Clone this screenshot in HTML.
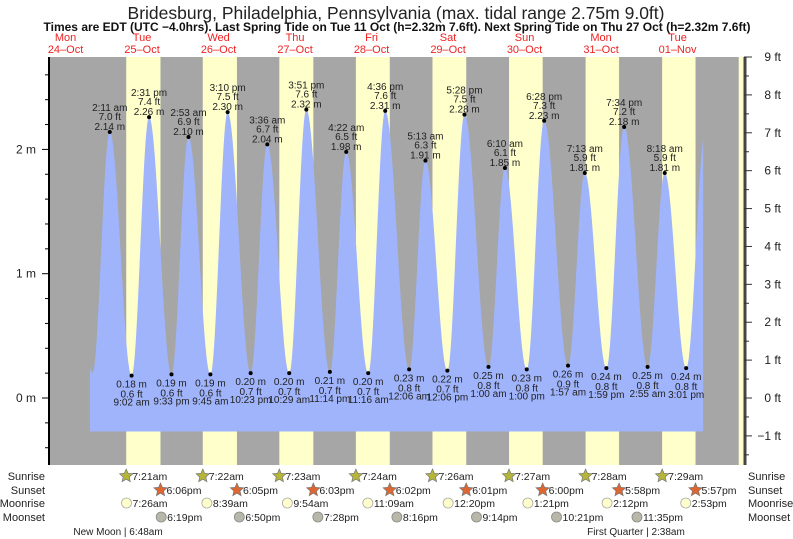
<!DOCTYPE html>
<html><head><meta charset="utf-8">
<style>
html,body{margin:0;padding:0;background:#fff;}
svg{display:block;font-family:"Liberation Sans",sans-serif;}
</style></head>
<body>
<svg id="chart" width="793" height="539" viewBox="0 0 793 539" xmlns="http://www.w3.org/2000/svg">
<text x="396" y="19" text-anchor="middle" font-size="17.5" fill="#222">Bridesburg, Philadelphia, Pennsylvania (max. tidal range 2.75m 9.0ft)</text>
<text x="397" y="31" text-anchor="middle" font-size="12" font-weight="bold" fill="#111">Times are EDT (UTC −4.0hrs). Last Spring Tide on Tue 11 Oct (h=2.32m 7.6ft). Next Spring Tide on Thu 27 Oct (h=2.32m 7.6ft)</text>
<g id="bands"></g>
<g id="tide"></g>
<g id="labels"></g>
<g id="axes"></g>
<g id="astro"></g>
</svg>
<script>
// ---- data ----
const dayNames = ["Mon","Tue","Wed","Thu","Fri","Sat","Sun","Mon","Tue"];
const dayDates = ["24\u2013Oct","25\u2013Oct","26\u2013Oct","27\u2013Oct","28\u2013Oct","29\u2013Oct","30\u2013Oct","31\u2013Oct","01\u2013Nov"];
// extremes: day offset from Oct 24, time, height (m)
const tideDay = [0,1,1,1,1,2,2,2,2,3,3,3,3,4,4,4,5,5,5,5,6,6,6,6,7,7,7,7,8,8,8];
const tideTime = ["20:45","02:11","09:02","14:31","21:33","02:53","09:45","15:10","22:23","03:36","10:29","15:51","23:14","04:22","11:16","16:36","00:06","05:13","12:06","17:28","01:00","06:10","13:00","18:28","01:57","07:13","13:59","19:34","02:55","08:18","15:01"];
const tideHeight = [0.20,2.14,0.18,2.26,0.19,2.10,0.19,2.30,0.20,2.04,0.20,2.32,0.21,1.98,0.20,2.31,0.23,1.91,0.22,2.28,0.25,1.85,0.23,2.23,0.26,1.81,0.24,2.18,0.25,1.81,0.24];
const tideNextDay = 8, tideNextTime = "21:05", tideNextHeight = 2.15;
const dataStart = [0,"20:00"], dataEnd = [8,"20:20"];
const sunriseT = ["7:21","7:22","7:23","7:24","7:26","7:27","7:28","7:29"];
const sunsetT = ["6:06","6:05","6:03","6:02","6:01","6:00","5:58","5:57"];
const moonriseT = ["7:26am","8:39am","9:54am","11:09am","12:20pm","1:21pm","2:12pm","2:53pm"];
const moonsetT = ["6:19pm","6:50pm","7:28pm","8:16pm","9:14pm","10:21pm","11:35pm"];
const mTicks = [0,1,2];
const ftTicks = [-1,0,1,2,3,4,5,6,7,8,9];

// ---- scales ----
const X0 = 26.3, PXD = 76.5;
const PL = 49, PR = 744, PT = 57, PB = 465;
function x(day, hrs){ return X0 + PXD*(day + hrs/24); }
function y(m){ return 398 - 124.3*m; }
function hm(s){ const p=s.split(":"); return +p[0] + (+p[1])/60; }
function ampmHrs(s){ const pm=/pm/.test(s); const t=s.replace(/[apm]/g,""); let h=hm(t); if(pm && h<12) h+=12; if(!pm && h>=12) h-=12; return h; }
function fmt12(s){ let h=hm(s), mm=s.split(":")[1]; let hh=Math.floor(h); const ap = hh>=12?"pm":"am"; hh = hh%12; if(hh===0) hh=12; return hh+":"+mm+" "+ap; }
const NS="http://www.w3.org/2000/svg";
function el(tag, attrs, parent, txt){ const e=document.createElementNS(NS,tag); for(const k in attrs) e.setAttribute(k,attrs[k]); if(txt!==undefined) e.textContent=txt; parent.appendChild(e); return e; }

const bands=document.getElementById('bands');
const bg = el('rect',{x:PL,y:PT,width:PR-PL,height:PB-PT,fill:'#a6a6a6'},bands);


for(let i=0;i<sunriseT.length;i++){
  const d=i+1;
  const x1=x(d,hm(sunriseT[i])), x2=x(d,hm(sunsetT[i])+12);
  const r=el('rect',{x:x1,y:PT,width:x2-x1,height:PB-PT,fill:'#ffffcc'},bands);
  
  
}
{ const x1=x(9,7.5); const r=el('rect',{x:x1,y:PT,width:PR-x1,height:PB-PT,fill:'#ffffcc'},bands);
  
   }

// day labels
const lab=document.getElementById('labels');
for(let i=0;i<dayNames.length;i++){
  const cx=x(i,12)+1;
  const t1=el('text',{x:cx,y:41,'text-anchor':'middle','font-size':11,fill:'#ee2222'},lab,dayNames[i]);
  
  
  const t2=el('text',{x:cx,y:53,'text-anchor':'middle','font-size':11,fill:'#ee2222'},lab,dayDates[i]);
  
  
}

// tide curve
const ext=[];
for(let i=0;i<tideDay.length;i++) ext.push({t:tideDay[i]+hm(tideTime[i])/24,h:tideHeight[i]});
ext.push({t:tideNextDay+hm(tideNextTime)/24,h:tideNextHeight});
const ts=dataStart[0]+hm(dataStart[1])/24, te=dataEnd[0]+hm(dataEnd[1])/24;
function hAt(t){
  if(t<=ext[0].t) return ext[0].h + (ext[0].t-t)*1.2;
  for(let i=0;i<ext.length-1;i++){
    const a=ext[i],b=ext[i+1];
    if(t>=a.t && t<=b.t){ const s=(t-a.t)/(b.t-a.t); return a.h+(b.h-a.h)*(1-Math.cos(Math.PI*s))/2; }
  }
  return ext[ext.length-1].h;
}
let d=`M${x(0,ts*24)},${y(-0.27)}`;
for(let t=ts;t<=te+1e-9;t+=1/24/12){ d+=` L${(X0+PXD*t).toFixed(2)},${y(hAt(t)).toFixed(2)}`; }
d+=` L${X0+PXD*te},${y(-0.27)} Z`;
const tide=document.getElementById('tide');
const p=el('path',{d:d,fill:'#a0b4fb'},tide);



// extreme labels
for(let i=1;i<tideDay.length;i++){
  const cx=x(tideDay[i],hm(tideTime[i])), cy=y(tideHeight[i]);
  const hi = tideHeight[i]>1;
  const dot=el('circle',{cx:cx,cy:cy,r:2,fill:'#000'},lab);
  
  
  const ft=(tideHeight[i]*3.2808).toFixed(1)+" ft", mt=tideHeight[i].toFixed(2)+" m", tt=fmt12(tideTime[i]);
  const lines = hi ? [[tt,-21],[ft,-12],[mt,-2]] : [[mt,12],[ft,22],[tt,30]];
  for(const [s,o] of lines){
    const t=el('text',{x:cx,y:cy+o,'text-anchor':'middle','font-size':10,fill:'#222'},lab,s);
    
    
  }
}

// axes
const ax=document.getElementById('axes');
const la=el('line',{x1:PL,y1:PT,x2:PL,y2:PB,stroke:'#000','stroke-width':2},ax);


for(let v=-0.4;v<=2.7;v+=0.2){
  const major=Math.abs(v-Math.round(v))<0.01;
  const l=el('line',{x1:major?42:45,y1:y(v),x2:PL,y2:y(v),stroke:'#000','stroke-width':1},ax);
  
  
}
for(const m of mTicks){
  const t=el('text',{x:36,y:y(m)+4,'text-anchor':'end','font-size':12,fill:'#222'},ax,m+" m");
  
  
}
const ra=el('line',{x1:PR+1,y1:PT,x2:PR+1,y2:PB,stroke:'#444','stroke-width':3},ax);


function yft(f){ return y(f/3.2808); }
for(let f=-1.5;f<=9;f+=0.5){
  const major=Math.abs(f-Math.round(f))<0.01;
  const l=el('line',{x1:PR,y1:yft(f),x2:major?PR+8:PR+5,y2:yft(f),stroke:'#333','stroke-width':1},ax);
  
  
}
for(const f of ftTicks){
  const t=el('text',{x:781,y:yft(f)+4,'text-anchor':'end','font-size':12,fill:'#222'},ax,(f<0?"\u2212"+(-f):f)+" ft");
  
  
}

// astro rows
const as=document.getElementById('astro');
const rows=[["Sunrise",476],["Sunset",490],["Moonrise",503],["Moonset",517]];
for(const [n,yy] of rows){
  const a=el('text',{x:45,y:yy+4,'text-anchor':'end','font-size':11,fill:'#222'},as,n);
  
  
  const b=el('text',{x:748,y:yy+4,'font-size':11,fill:'#222'},as,n);
  
  
}
function star(cx,cy,fill,name){
  let pts=[];for(let k=0;k<10;k++){const r=k%2?3.2:7,a=-Math.PI/2+k*Math.PI/5;pts.push((cx+r*Math.cos(a)).toFixed(1)+","+(cy+r*Math.sin(a)).toFixed(1));}
  const s=el('polygon',{points:pts.join(" "),fill:fill,stroke:'#777','stroke-width':0.7},as);
  
  
}
function item(cx,cy,txt,name){
  const t=el('text',{x:cx+6,y:cy+4,'font-size':10.5,fill:'#222'},as,txt);
  
  
}
for(let i=0;i<sunriseT.length;i++){
  const cx=x(i+1,hm(sunriseT[i])); star(cx,476,'#b5b53a','sunrise-icon'); item(cx,476,sunriseT[i]+"am",'sunrise-time');
  const cs=x(i+1,hm(sunsetT[i])+12); star(cs,490,'#dd6633','sunset-icon'); item(cs,490,sunsetT[i]+"pm",'sunset-time');
}
for(let i=0;i<moonriseT.length;i++){
  const cx=x(i+1,ampmHrs(moonriseT[i]));
  const c=el('circle',{cx:cx,cy:503,r:5,fill:'#ffffcc',stroke:'#aaa','stroke-width':0.8},as);
  
  
  item(cx,503,moonriseT[i],'moonrise-time');
}
for(let i=0;i<moonsetT.length;i++){
  const cx=x(i+1,ampmHrs(moonsetT[i]));
  const c=el('circle',{cx:cx,cy:517,r:5,fill:'#b8b8a8',stroke:'#888','stroke-width':0.8},as);
  
  
  item(cx,517,moonsetT[i],'moonset-time');
}
const nm=el('text',{x:118,y:535,'text-anchor':'middle','font-size':10,fill:'#222'},as,"New Moon | 6:48am");


const fq=el('text',{x:636,y:535,'text-anchor':'middle','font-size':10,fill:'#222'},as,"First Quarter | 2:38am");


</script>
</body></html>
